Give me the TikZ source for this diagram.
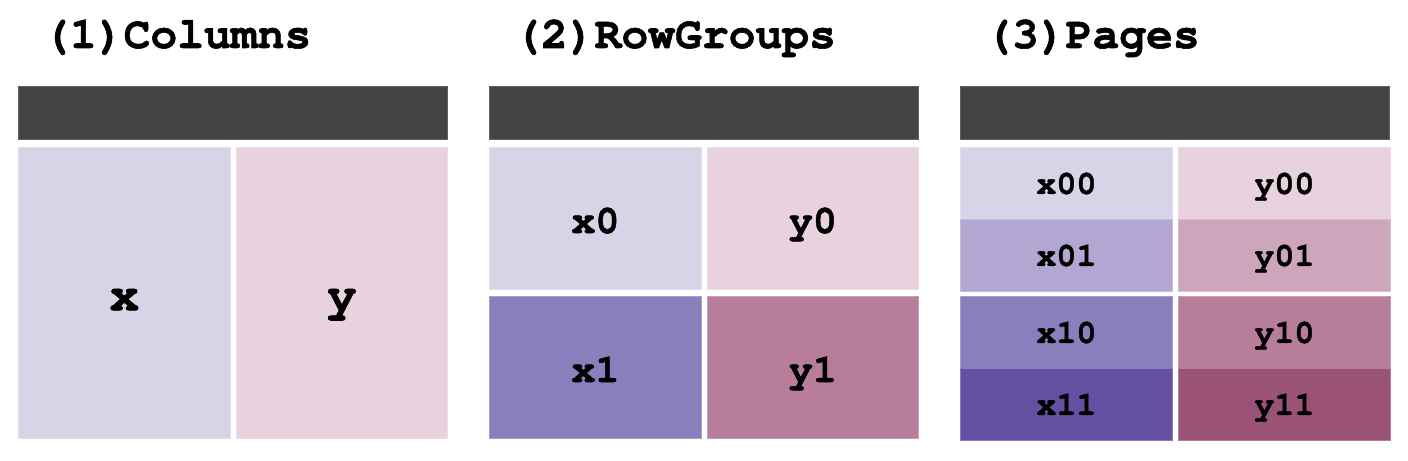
\documentclass[tikz,border=0pt]{standalone}
\usepackage{fontspec}
\newfontfamily\cour[FakeBold=1.3]{texgyrecursor-bold.otf}
\definecolor{hdr}{HTML}{444444}
\definecolor{xa}{HTML}{D8D3E7}
\definecolor{ya}{HTML}{E7D2DE}
\definecolor{xb}{HTML}{B1A7D2}
\definecolor{yb}{HTML}{CEA6BC}
\definecolor{xc}{HTML}{8B7EBD}
\definecolor{yc}{HTML}{B77D9B}
\definecolor{xd}{HTML}{6350A0}
\definecolor{yd}{HTML}{9B5277}
\begin{document}
\begin{tikzpicture}[x=0.75pt,y=-0.75pt,
  cell/.style={rectangle, inner sep=0pt, anchor=north west, text depth=0pt,
    fill=#1, draw=#1!75!white, line width=0.6pt},
  big/.style={font=\cour\fontsize{37}{37}\selectfont, text height=26.25pt},
  mid/.style={font=\cour\fontsize{30}{30}\selectfont, text height=22pt},
  sml/.style={font=\cour\fontsize{25}{25}\selectfont, text height=16.5pt},
  header/.style={rectangle, inner sep=0pt, anchor=north west, fill=hdr, draw=hdr!85!white, line width=0.6pt,
    minimum width={429*0.75pt}, minimum height={53*0.75pt}},
  title/.style={anchor=base west, inner sep=0pt, font=\cour\fontsize{33.5}{33.5}\selectfont}]
\useasboundingbox[fill=white] (0,0) rectangle (1408,460);
% titles
\node[title] (t1) at (43,48) {(1)Columns};
\node[title] (t2) at (514,48) {(2)RowGroups};
\node[title] (t3) at (985,48) {(3)Pages};
% headers
\node[header] (h1) at (18,86) {};
\node[header] (h2) at (489,86) {};
\node[header] (h3) at (960,86) {};
% panel 1
\node[cell=xa, big, minimum width={212*0.75pt}, minimum height={291*0.75pt}] (c1x) at (18,147) {x};
\node[cell=ya, big, minimum width={211*0.75pt}, minimum height={291*0.75pt}] (c1y) at (236,147) {y};
% panel 2
\node[cell=xa, mid, minimum width={212*0.75pt}, minimum height={142*0.75pt}] (c2x0) at (489,147) {x0};
\node[cell=ya, mid, minimum width={211*0.75pt}, minimum height={142*0.75pt}] (c2y0) at (707,147) {y0};
\node[cell=xc, mid, minimum width={212*0.75pt}, minimum height={142*0.75pt}] (c2x1) at (489,296) {x1};
\node[cell=yc, mid, minimum width={211*0.75pt}, minimum height={142*0.75pt}] (c2y1) at (707,296) {y1};
% panel 3
\node[cell=xa, sml, minimum width={212*0.75pt}, minimum height={72*0.75pt}] (c3x00) at (960,146.5) {x00};
\node[cell=ya, sml, minimum width={212*0.75pt}, minimum height={72*0.75pt}] (c3y00) at (1178,146.5) {y00};
\node[cell=xb, sml, minimum width={212*0.75pt}, minimum height={72*0.75pt}] (c3x01) at (960,218.5) {x01};
\node[cell=yb, sml, minimum width={212*0.75pt}, minimum height={72*0.75pt}] (c3y01) at (1178,218.5) {y01};
\node[cell=xc, sml, minimum width={212*0.75pt}, minimum height={72*0.75pt}] (c3x10) at (960,295.5) {x10};
\node[cell=yc, sml, minimum width={212*0.75pt}, minimum height={72*0.75pt}] (c3y10) at (1178,295.5) {y10};
\node[cell=xd, sml, minimum width={212*0.75pt}, minimum height={72*0.75pt}] (c3x11) at (960,367.5) {x11};
\node[cell=yd, sml, minimum width={212*0.75pt}, minimum height={72*0.75pt}] (c3y11) at (1178,367.5) {y11};
\end{tikzpicture}
\end{document}
